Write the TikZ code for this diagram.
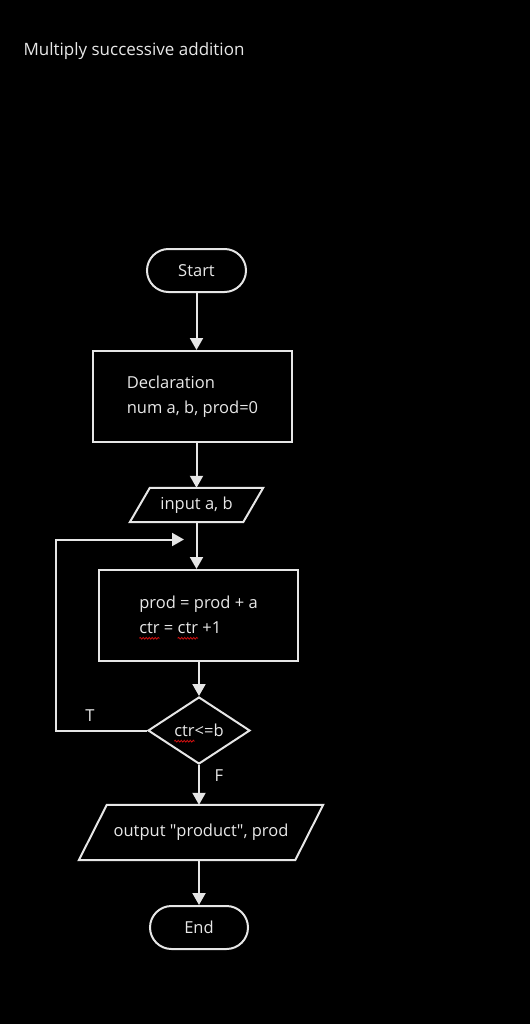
\documentclass[tikz,border=0pt]{standalone}
\usepackage{fontspec}
\setmainfont{Open Sans}
\usetikzlibrary{shapes.geometric,shapes.misc,arrows.meta,calc,decorations.pathmorphing}
\definecolor{ln}{HTML}{E6E6E6}
\definecolor{tx}{HTML}{E8E8E8}
\definecolor{sqred}{HTML}{D01010}
\newlength\sqlen
\newcommand\sqw[1]{\settowidth{\sqlen}{#1}\rlap{\tikz[overlay,x=1pt,y=1pt]\draw[sqred,line width=0.8pt,decorate,decoration={snake,amplitude=0.9pt,segment length=3pt}] (0,-4.5) -- (\sqlen,-4.5);}#1}
\begin{document}
\begin{tikzpicture}[x=1pt,y=-1pt,
  every node/.style={text=tx,font=\fontsize{16.5}{25}\selectfont},
  box/.style={draw=ln,line width=2pt,rectangle,align=left,inner sep=0pt},
  term/.style={draw=ln,line width=2pt,rounded rectangle,minimum width=99,minimum height=43,inner sep=0pt},
  ghost/.style={rectangle,inner sep=0pt},
  dec/.style={draw=ln,line width=2pt,diamond,minimum width=102,minimum height=67,inner sep=0pt},
  arr/.style={draw=ln,line width=2pt,-{Triangle[length=12pt,width=13pt]}},
  ln/.style={draw=ln,line width=2pt}]
\fill[black] (0,0) rectangle (530,1024);
\useasboundingbox (0,0) rectangle (530,1024);
\node[anchor=west,font=\fontsize{17}{20}\selectfont] (title) at (20,51) {Multiply successive addition};
\node[term] (start) at (196.5,270.5) {Start};
\node[box,minimum width=199,minimum height=91] (decl) at (192.5,396.5) {Declaration\\num a, b, prod=0};
\node[ghost,minimum width=113,minimum height=34] (in) at (196.5,505) {input a, b};
\draw[ln] ($(in.north west)+(10,0)$) -- ($(in.north east)+(10,0)$) -- ($(in.south east)+(-10,0)$) -- ($(in.south west)+(-10,0)$) -- cycle;
\node[box,minimum width=199,minimum height=91,text depth=1pt] (proc) at (198.5,615.5) {prod = prod + a\\\sqw{ctr} = \sqw{ctr} +1};
\node[dec] (cond) at (199,730.5) {\sqw{ctr}<=b};
\node[ghost,minimum width=216,minimum height=55] (out) at (201,832.5) {output \textquotedbl product\textquotedbl, prod};
\draw[ln] ($(out.north west)+(14,0)$) -- ($(out.north east)+(14,0)$) -- ($(out.south east)+(-14,0)$) -- ($(out.south west)+(-14,0)$) -- cycle;
\node[term,minimum width=98] (end) at (199,927.5) {End};
\node (t) at (90,716) {T};
\node (f) at (219,776) {F};
\coordinate (loopend) at (184,539.5);
\draw[arr] (start.south) -- (start.south |- decl.north);
\draw[arr] (decl.south -| in.north) -- (in.north);
\draw[arr] (in.south) -- (in.south |- proc.north);
\draw[arr] (proc.south -| cond.north) -- (cond.north);
\draw[arr] (cond.south) -- (cond.south |- out.north);
\draw[arr] (out.south -| end.north) -- (end.north);
\draw[arr] (cond.west) -- ++(-91,0) |- (loopend);
\end{tikzpicture}
\end{document}
